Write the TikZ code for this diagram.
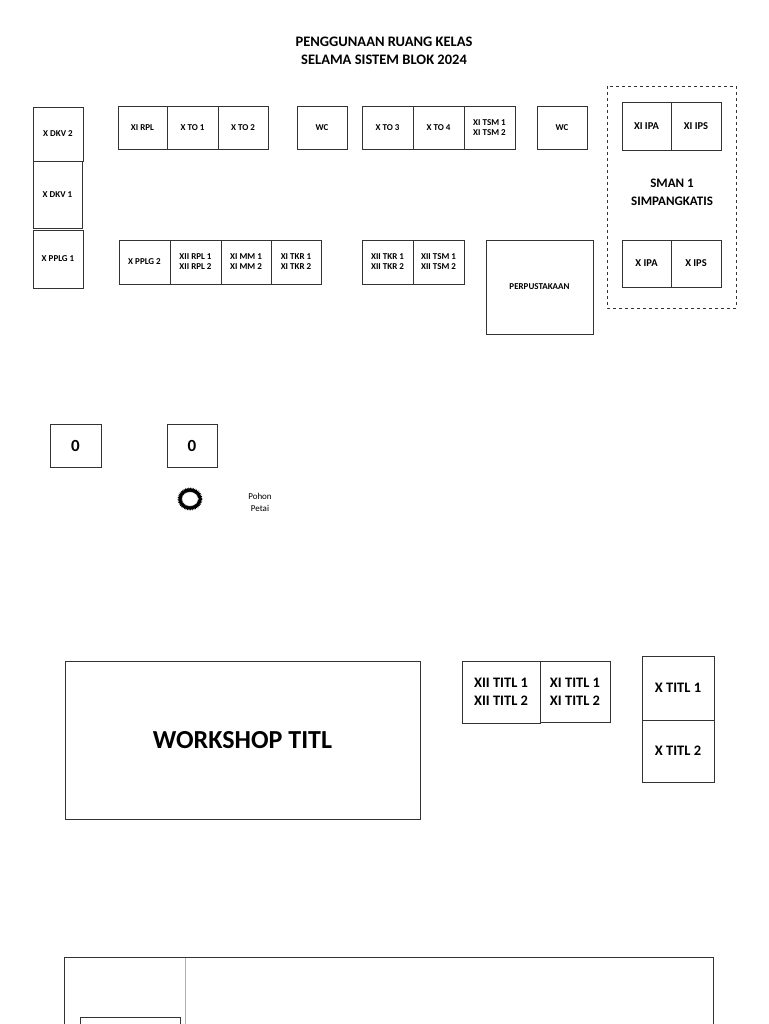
\documentclass[tikz,border=0pt]{standalone}
\usepackage{fontspec}
\setmainfont{Carlito}
\usetikzlibrary{decorations.pathmorphing}
\begin{document}
\begin{tikzpicture}[x=1pt,y=-1pt,
  room/.style={draw=black!80,line width=0.8pt,font=\bfseries\fontsize{9}{10}\selectfont,align=center},
  big/.style={draw=black!80,line width=0.8pt,font=\bfseries\fontsize{10}{12}\selectfont,align=center}]
\useasboundingbox (0,0) rectangle (768,1024);
\node[font=\bfseries\fontsize{14.5}{18}\selectfont,align=center] (title) at (384,51) {PENGGUNAAN RUANG KELAS\\SELAMA SISTEM BLOK 2024};
\def\bx#1#2#3#4#5#6{\node[room,minimum width=#3-#1,minimum height=#4-#2,inner sep=0pt] (#5) at ({(#1+#3)/2},{(#2+#4)/2}) {#6};}
\bx{33}{107}{83}{161}{dkv2}{X DKV 2}
\bx{33}{161}{82}{228}{dkv1}{X DKV 1}
\bx{33}{230}{83}{288}{pplg1}{X PPLG 1}
\bx{118}{106}{167}{149}{xirpl}{XI RPL}
\bx{167}{106}{218}{149}{to1}{X TO 1}
\bx{218}{106}{268}{149}{to2}{X TO 2}
\bx{297}{106}{347}{149}{wc1}{WC}
\bx{362}{106}{413}{149}{to3}{X TO 3}
\bx{413}{106}{464}{149}{to4}{X TO 4}
\bx{464}{106}{515}{149}{tsm}{XI TSM 1\\XI TSM 2}
\bx{537}{106}{587}{149}{wc2}{WC}
\bx{119}{240}{170}{284}{pplg2}{X PPLG 2}
\bx{170}{240}{221}{284}{xiirpl}{XII RPL 1\\XII RPL 2}
\bx{221}{240}{271}{284}{mm}{XI MM 1\\XI MM 2}
\bx{271}{240}{321}{284}{tkr}{XI TKR 1\\XI TKR 2}
\bx{362}{240}{413}{284}{xiitkr}{XII TKR 1\\XII TKR 2}
\bx{413}{240}{464}{284}{xiitsm}{XII TSM 1\\XII TSM 2}
\bx{486}{240}{593}{334}{perp}{PERPUSTAKAAN}
\draw[dashed,black!80,line width=0.7pt] (607,86) rectangle (736,308);
\node[room,font=\bfseries\fontsize{10.5}{12}\selectfont,minimum width=49,minimum height=48,inner sep=0pt] (ipa1) at (646.5,126) {XI IPA};
\node[room,font=\bfseries\fontsize{10.5}{12}\selectfont,minimum width=50,minimum height=48,inner sep=0pt] (ips1) at (696,126) {XI IPS};
\node[room,font=\bfseries\fontsize{10.5}{12}\selectfont,minimum width=49,minimum height=47,inner sep=0pt] (ipa2) at (646.5,263.5) {X IPA};
\node[room,font=\bfseries\fontsize{10.5}{12}\selectfont,minimum width=50,minimum height=47,inner sep=0pt] (ips2) at (696,263.5) {X IPS};
\node[font=\bfseries\fontsize{13}{18}\selectfont,align=center] (sman) at (672,192) {SMAN 1\\SIMPANGKATIS};
\node[room,font=\bfseries\fontsize{17}{18}\selectfont,minimum width=51,minimum height=43,inner sep=0pt] (z1) at (75.5,445.5) {0};
\node[room,font=\bfseries\fontsize{17}{18}\selectfont,minimum width=50,minimum height=43,inner sep=0pt] (z2) at (192,445.5) {0};
\draw[line width=1.6pt,decorate,decoration={zigzag,segment length=1.4pt,amplitude=0.7pt}] (190,499) ellipse (10 and 9);
\node[font=\fontsize{9}{12}\selectfont,align=center] (pohon) at (260,502) {Pohon\\Petai};
\node[big,font=\bfseries\fontsize{26}{30}\selectfont,minimum width=355,minimum height=158,inner sep=0pt] (ws) at (242.5,740) {WORKSHOP TITL};
\bx{462}{661}{540}{723}{xiititl}{}
\node[font=\bfseries\fontsize{14.5}{18}\selectfont,align=center] at (xiititl) {XII TITL 1\\XII TITL 2};
\bx{540}{661}{610}{722}{xititl}{}
\node[font=\bfseries\fontsize{14.5}{18}\selectfont,align=center] at (xititl) {XI TITL 1\\XI TITL 2};
\bx{642}{656}{714}{720}{xt1}{}
\node[font=\bfseries\fontsize{14.5}{16}\selectfont] at (xt1) {X TITL 1};
\bx{642}{720}{714}{782}{xt2}{}
\node[font=\bfseries\fontsize{14.5}{16}\selectfont] at (xt2) {X TITL 2};
\draw[black!80,line width=1pt] (64,1030) -- (64,957) -- (713,957) -- (713,1030);
\draw[black!30,line width=1pt] (185,958) -- (185,1030);
\draw[black!80,line width=0.8pt] (80,1030) -- (80,1017) -- (180,1017) -- (180,1030);
\end{tikzpicture}
\end{document}
